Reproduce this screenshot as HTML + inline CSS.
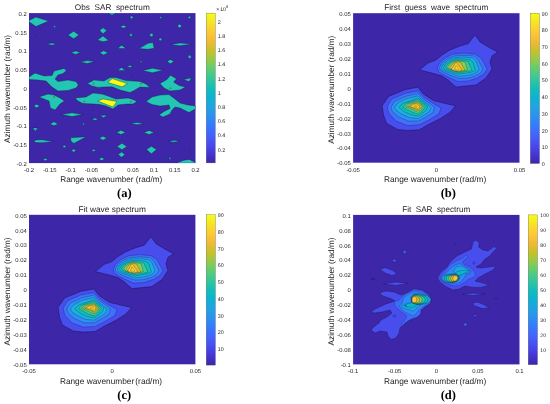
<!DOCTYPE html>
<html lang="en"><head><meta charset="utf-8"><title>SAR spectra figure</title>
<style>html,body{margin:0;padding:0;background:#fff}svg{display:block}text{text-rendering:geometricPrecision}</style></head><body>
<svg width="550" height="404" viewBox="0 0 550 404">
<rect width="550" height="404" fill="#ffffff"/>
<rect x="29.0" y="13.1" width="166.5" height="150.0" fill="#3e26a8"/>
<text x="112.25" y="10.10" font-size="8.2" text-anchor="middle" font-family="'Liberation Sans', Arial, sans-serif" fill="#262626" xml:space="preserve" textLength="75.0" lengthAdjust="spacingAndGlyphs">Obs  SAR  spectrum</text>
<text x="29.00" y="172.10" font-size="5.9" text-anchor="middle" font-family="'Liberation Sans', Arial, sans-serif" fill="#262626" xml:space="preserve">-0.2</text>
<text x="49.81" y="172.10" font-size="5.9" text-anchor="middle" font-family="'Liberation Sans', Arial, sans-serif" fill="#262626" xml:space="preserve">-0.15</text>
<text x="70.62" y="172.10" font-size="5.9" text-anchor="middle" font-family="'Liberation Sans', Arial, sans-serif" fill="#262626" xml:space="preserve">-0.1</text>
<text x="91.44" y="172.10" font-size="5.9" text-anchor="middle" font-family="'Liberation Sans', Arial, sans-serif" fill="#262626" xml:space="preserve">-0.05</text>
<text x="112.25" y="172.10" font-size="5.9" text-anchor="middle" font-family="'Liberation Sans', Arial, sans-serif" fill="#262626" xml:space="preserve">0</text>
<text x="133.06" y="172.10" font-size="5.9" text-anchor="middle" font-family="'Liberation Sans', Arial, sans-serif" fill="#262626" xml:space="preserve">0.05</text>
<text x="153.88" y="172.10" font-size="5.9" text-anchor="middle" font-family="'Liberation Sans', Arial, sans-serif" fill="#262626" xml:space="preserve">0.1</text>
<text x="174.69" y="172.10" font-size="5.9" text-anchor="middle" font-family="'Liberation Sans', Arial, sans-serif" fill="#262626" xml:space="preserve">0.15</text>
<text x="195.50" y="172.10" font-size="5.9" text-anchor="middle" font-family="'Liberation Sans', Arial, sans-serif" fill="#262626" xml:space="preserve">0.2</text>
<text x="26.70" y="15.80" font-size="5.9" text-anchor="end" font-family="'Liberation Sans', Arial, sans-serif" fill="#262626" xml:space="preserve">0.2</text>
<text x="26.70" y="34.55" font-size="5.9" text-anchor="end" font-family="'Liberation Sans', Arial, sans-serif" fill="#262626" xml:space="preserve">0.15</text>
<text x="26.70" y="53.30" font-size="5.9" text-anchor="end" font-family="'Liberation Sans', Arial, sans-serif" fill="#262626" xml:space="preserve">0.1</text>
<text x="26.70" y="72.05" font-size="5.9" text-anchor="end" font-family="'Liberation Sans', Arial, sans-serif" fill="#262626" xml:space="preserve">0.05</text>
<text x="26.70" y="90.80" font-size="5.9" text-anchor="end" font-family="'Liberation Sans', Arial, sans-serif" fill="#262626" xml:space="preserve">0</text>
<text x="26.70" y="109.55" font-size="5.9" text-anchor="end" font-family="'Liberation Sans', Arial, sans-serif" fill="#262626" xml:space="preserve">-0.05</text>
<text x="26.70" y="128.30" font-size="5.9" text-anchor="end" font-family="'Liberation Sans', Arial, sans-serif" fill="#262626" xml:space="preserve">-0.1</text>
<text x="26.70" y="147.05" font-size="5.9" text-anchor="end" font-family="'Liberation Sans', Arial, sans-serif" fill="#262626" xml:space="preserve">-0.15</text>
<text x="26.70" y="165.80" font-size="5.9" text-anchor="end" font-family="'Liberation Sans', Arial, sans-serif" fill="#262626" xml:space="preserve">-0.2</text>
<text x="111.25" y="182.10" font-size="8.2" text-anchor="middle" font-family="'Liberation Sans', Arial, sans-serif" fill="#262626" xml:space="preserve" textLength="102.0" lengthAdjust="spacingAndGlyphs">Range wavenumber (rad/m)</text>
<text x="9.90" y="88.90" font-size="8.2" text-anchor="middle" font-family="'Liberation Sans', Arial, sans-serif" fill="#262626" xml:space="preserve" transform="rotate(-90 9.90 88.90)" textLength="108.0" lengthAdjust="spacingAndGlyphs">Azimuth wavenumber (rad/m)</text>
<g clip-path="url(#clipA)">
<defs><clipPath id="clipA"><rect x="29.0" y="13.1" width="166.5" height="150.0"/></clipPath></defs>
<polygon points="28.0,21.0 35.9,17.1 48.6,21.0 35.9,26.6" fill="#22c6b2" stroke="#15153a" stroke-width="0.35" stroke-linejoin="round"/>
<polygon points="68.0,35.0 73.6,31.2 79.0,35.0 73.6,38.8" fill="#22c6b2" stroke="#15153a" stroke-width="0.35" stroke-linejoin="round"/>
<polygon points="46.4,44.0 52.0,42.9 56.5,44.0 52.0,45.3" fill="#22c6b2" stroke="#15153a" stroke-width="0.35" stroke-linejoin="round"/>
<polygon points="99.6,30.6 103.0,27.7 106.8,30.6 103.0,33.7" fill="#22c6b2" stroke="#15153a" stroke-width="0.35" stroke-linejoin="round"/>
<polygon points="97.4,40.0 103.0,36.0 108.6,40.5 103.0,41.8" fill="#22c6b2" stroke="#15153a" stroke-width="0.35" stroke-linejoin="round"/>
<polygon points="71.1,52.6 75.6,51.0 80.5,52.6 75.6,54.4" fill="#22c6b2" stroke="#15153a" stroke-width="0.35" stroke-linejoin="round"/>
<polygon points="99.6,52.8 103.6,50.8 108.1,52.8 103.6,55.0" fill="#22c6b2" stroke="#15153a" stroke-width="0.35" stroke-linejoin="round"/>
<polygon points="79.8,62.0 87.4,60.6 94.8,61.6 87.4,63.5" fill="#22c6b2" stroke="#15153a" stroke-width="0.35" stroke-linejoin="round"/>
<polygon points="107.5,12.9 112.0,15.2 116.5,12.9" fill="#22c6b2" stroke="#15153a" stroke-width="0.35" stroke-linejoin="round"/>
<polygon points="120.0,26.4 123.6,25.3 126.7,26.4 123.6,28.2" fill="#22c6b2" stroke="#15153a" stroke-width="0.35" stroke-linejoin="round"/>
<polygon points="128.8,35.0 131.0,33.9 133.2,35.0 131.0,36.1" fill="#22c6b2" stroke="#15153a" stroke-width="0.35" stroke-linejoin="round"/>
<polygon points="117.6,48.5 121.6,45.2 126.1,48.5" fill="#22c6b2" stroke="#15153a" stroke-width="0.35" stroke-linejoin="round"/>
<polygon points="117.6,70.5 121.4,67.4 125.4,70.5" fill="#22c6b2" stroke="#15153a" stroke-width="0.35" stroke-linejoin="round"/>
<polygon points="126.7,66.4 130.0,65.3 132.7,66.4 130.0,67.5" fill="#22c6b2" stroke="#15153a" stroke-width="0.35" stroke-linejoin="round"/>
<polygon points="29.0,77.0 35.0,73.0 44.0,76.0 52.0,75.6 54.0,71.0 64.0,68.4 66.4,70.4 63.0,73.6 58.0,75.0 55.0,79.0 58.0,81.6 68.0,80.0 76.0,81.6 78.4,85.0 76.0,88.0 68.0,90.4 58.0,91.0 52.0,87.0 46.0,81.0 38.0,80.0 29.0,79.5" fill="#22c6b2" stroke="#15153a" stroke-width="0.35" stroke-linejoin="round"/>
<polygon points="39.0,97.0 48.0,94.0 54.0,95.0 60.0,98.0 64.4,101.0 60.0,104.0 55.0,110.0 50.4,108.0 49.0,101.0 44.0,99.0" fill="#22c6b2" stroke="#15153a" stroke-width="0.35" stroke-linejoin="round"/>
<polygon points="33.7,106.0 36.4,104.2 40.0,106.0 36.4,107.8" fill="#22c6b2" stroke="#15153a" stroke-width="0.35" stroke-linejoin="round"/>
<polygon points="87.4,83.6 94.0,80.0 104.0,81.0 110.0,77.6 116.0,77.4 126.0,80.6 140.0,81.4 146.0,84.0 150.0,87.6 140.0,87.0 135.0,90.0 130.0,92.6 120.0,90.0 112.0,86.8 104.0,87.0 98.0,87.4 92.0,86.0" fill="#22c6b2" stroke="#15153a" stroke-width="0.35" stroke-linejoin="round"/>
<polygon points="75.0,98.0 86.0,97.0 93.0,93.0 102.0,94.0 108.0,96.0 116.0,99.0 128.0,98.0 133.0,99.4 137.0,101.6 133.0,104.0 126.0,104.0 118.0,105.0 113.0,109.0 106.0,106.0 100.0,104.6 94.0,104.0 83.0,103.6 78.0,101.0" fill="#22c6b2" stroke="#15153a" stroke-width="0.35" stroke-linejoin="round"/>
<polygon points="61.2,114.6 72.0,112.8 82.8,114.6 72.0,116.6" fill="#22c6b2" stroke="#15153a" stroke-width="0.35" stroke-linejoin="round"/>
<polygon points="100.0,115.3 107.4,115.3 103.6,117.8" fill="#22c6b2" stroke="#15153a" stroke-width="0.35" stroke-linejoin="round"/>
<polygon points="91.6,119.2 95.0,117.9 98.4,119.2 95.0,120.3" fill="#22c6b2" stroke="#15153a" stroke-width="0.35" stroke-linejoin="round"/>
<polygon points="50.0,124.0 54.0,121.8 58.0,124.0 54.0,125.8" fill="#22c6b2" stroke="#15153a" stroke-width="0.35" stroke-linejoin="round"/>
<polygon points="32.7,127.9 37.9,127.9 35.4,131.2" fill="#22c6b2" stroke="#15153a" stroke-width="0.35" stroke-linejoin="round"/>
<polygon points="116.5,132.4 121.0,130.2 125.5,132.4 121.0,134.6" fill="#22c6b2" stroke="#15153a" stroke-width="0.35" stroke-linejoin="round"/>
<polygon points="33.6,141.2 36.0,139.9 42.0,139.8 53.5,141.4 42.0,142.7 36.0,142.5" fill="#22c6b2" stroke="#15153a" stroke-width="0.35" stroke-linejoin="round"/>
<polygon points="70.5,137.8 86.2,136.7 73.8,143.4 71.1,141.2" fill="#22c6b2" stroke="#15153a" stroke-width="0.35" stroke-linejoin="round"/>
<polygon points="99.2,138.0 103.0,136.2 106.8,138.0 103.0,140.2" fill="#22c6b2" stroke="#15153a" stroke-width="0.35" stroke-linejoin="round"/>
<polygon points="116.9,146.4 122.0,143.3 126.9,146.4 122.0,149.8" fill="#22c6b2" stroke="#15153a" stroke-width="0.35" stroke-linejoin="round"/>
<polygon points="118.0,154.6 121.6,152.1 125.0,154.6 121.6,157.3" fill="#22c6b2" stroke="#15153a" stroke-width="0.35" stroke-linejoin="round"/>
<polygon points="62.2,146.4 64.4,145.3 66.6,146.4 64.4,147.7" fill="#22c6b2" stroke="#15153a" stroke-width="0.35" stroke-linejoin="round"/>
<polygon points="71.3,150.4 73.6,149.0 76.3,150.4 73.6,152.0" fill="#22c6b2" stroke="#15153a" stroke-width="0.35" stroke-linejoin="round"/>
<polygon points="91.3,150.4 93.6,149.3 96.3,150.4 93.6,151.5" fill="#22c6b2" stroke="#15153a" stroke-width="0.35" stroke-linejoin="round"/>
<polygon points="42.7,159.4 45.4,158.3 47.9,159.4 45.4,160.7" fill="#22c6b2" stroke="#15153a" stroke-width="0.35" stroke-linejoin="round"/>
<polygon points="98.7,159.0 101.6,157.4 104.7,159.0 101.6,160.6" fill="#22c6b2" stroke="#15153a" stroke-width="0.35" stroke-linejoin="round"/>
<polygon points="139.0,48.6 148.0,43.3 152.9,42.6 154.2,48.2 148.0,49.3" fill="#22c6b2" stroke="#15153a" stroke-width="0.35" stroke-linejoin="round"/>
<polygon points="170.5,44.4 179.9,42.9 192.2,44.0 179.9,45.8" fill="#22c6b2" stroke="#15153a" stroke-width="0.35" stroke-linejoin="round"/>
<polygon points="187.8,57.0 189.6,54.8 191.6,57.0 189.6,58.8" fill="#22c6b2" stroke="#15153a" stroke-width="0.35" stroke-linejoin="round"/>
<polygon points="167.0,61.6 170.4,59.4 174.0,61.6 170.4,63.8" fill="#22c6b2" stroke="#15153a" stroke-width="0.35" stroke-linejoin="round"/>
<polygon points="142.5,70.4 152.4,68.2 163.1,70.2 152.4,72.8" fill="#22c6b2" stroke="#15153a" stroke-width="0.35" stroke-linejoin="round"/>
<polygon points="183.5,79.6 191.4,77.8 189.1,81.7" fill="#22c6b2" stroke="#15153a" stroke-width="0.35" stroke-linejoin="round"/>
<polygon points="160.0,83.4 167.0,79.4 170.4,75.2 176.5,78.8 173.6,82.0 179.0,85.5 185.6,87.0 180.0,90.0 170.0,91.0 164.0,88.0" fill="#22c6b2" stroke="#15153a" stroke-width="0.35" stroke-linejoin="round"/>
<polygon points="146.0,101.4 152.0,97.0 160.0,95.0 169.0,94.6 175.0,99.0 180.0,103.0 188.0,105.0 196.0,106.0 196.0,108.6 189.0,112.6 180.0,108.0 175.0,107.0 172.0,110.0 170.0,114.0 163.0,117.0 159.0,115.0 164.0,111.4 170.0,108.6 169.0,105.0 160.0,106.0 152.0,104.6" fill="#22c6b2" stroke="#15153a" stroke-width="0.35" stroke-linejoin="round"/>
<polygon points="130.3,123.6 137.0,122.5 144.4,123.4 137.0,124.7" fill="#22c6b2" stroke="#15153a" stroke-width="0.35" stroke-linejoin="round"/>
<polygon points="143.8,132.4 149.0,130.4 154.2,132.4 149.0,134.6" fill="#22c6b2" stroke="#15153a" stroke-width="0.35" stroke-linejoin="round"/>
<polygon points="168.4,141.2 175.1,140.3 179.6,141.4 172.9,142.3" fill="#22c6b2" stroke="#15153a" stroke-width="0.35" stroke-linejoin="round"/>
<polygon points="146.5,149.6 151.4,146.2 156.5,149.6 151.4,153.8" fill="#22c6b2" stroke="#15153a" stroke-width="0.35" stroke-linejoin="round"/>
<polygon points="175.9,163.2 183.7,160.3 189.3,159.4 197.1,163.2" fill="#22c6b2" stroke="#15153a" stroke-width="0.35" stroke-linejoin="round"/>
<circle cx="54.6" cy="26.4" r="1.0" fill="#22c6b2" stroke="#15153a" stroke-width="0.35"/>
<circle cx="131.6" cy="17.4" r="1.4" fill="#22c6b2" stroke="#15153a" stroke-width="0.35"/>
<circle cx="160.6" cy="17.4" r="1.0" fill="#22c6b2" stroke="#15153a" stroke-width="0.35"/>
<circle cx="189.4" cy="17.4" r="1.2" fill="#22c6b2" stroke="#15153a" stroke-width="0.35"/>
<circle cx="179.6" cy="26.0" r="1.8" fill="#22c6b2" stroke="#15153a" stroke-width="0.35"/>
<circle cx="131.0" cy="35.0" r="1.4" fill="#22c6b2" stroke="#15153a" stroke-width="0.35"/>
<circle cx="151.4" cy="35.0" r="1.8" fill="#22c6b2" stroke="#15153a" stroke-width="0.35"/>
<circle cx="160.4" cy="39.4" r="1.4" fill="#22c6b2" stroke="#15153a" stroke-width="0.35"/>
<circle cx="141.0" cy="61.6" r="0.9" fill="#22c6b2" stroke="#15153a" stroke-width="0.35"/>
<circle cx="83.6" cy="124.0" r="0.9" fill="#22c6b2" stroke="#15153a" stroke-width="0.35"/>
<circle cx="170.0" cy="158.6" r="1.0" fill="#22c6b2" stroke="#15153a" stroke-width="0.35"/>
<circle cx="36.0" cy="35.0" r="0.5" fill="#1c1c50" stroke="none" stroke-width="0"/>
<circle cx="131.6" cy="75.0" r="0.5" fill="#1c1c50" stroke="none" stroke-width="0"/>
<circle cx="93.0" cy="110.4" r="0.5" fill="#1c1c50" stroke="none" stroke-width="0"/>
<circle cx="189.4" cy="150.0" r="0.5" fill="#1c1c50" stroke="none" stroke-width="0"/>
<polygon points="108.0,82.6 112.2,78.6 127.4,83.6 122.0,86.8" fill="#f9fb15" stroke="#15153a" stroke-width="0.35" stroke-linejoin="round"/>
<polygon points="97.6,101.0 103.0,99.0 117.0,101.4 113.0,107.0" fill="#f9fb15" stroke="#15153a" stroke-width="0.35" stroke-linejoin="round"/>
<circle cx="93.6" cy="83.6" r="0.7" fill="#c9c420" stroke="#15153a" stroke-width="0.3"/>
<circle cx="141.0" cy="83.6" r="0.7" fill="#c9c420" stroke="#15153a" stroke-width="0.3"/>
<circle cx="170.4" cy="88.4" r="0.7" fill="#c9c420" stroke="#15153a" stroke-width="0.3"/>
<circle cx="84.4" cy="101.6" r="0.7" fill="#c9c420" stroke="#15153a" stroke-width="0.3"/>
<circle cx="131.0" cy="101.6" r="0.7" fill="#c9c420" stroke="#15153a" stroke-width="0.3"/>
<circle cx="54.0" cy="97.0" r="0.7" fill="#c9c420" stroke="#15153a" stroke-width="0.3"/>
</g>
<defs><linearGradient id="cbA" x1="0" y1="0" x2="0" y2="1"><stop offset="0.0000" stop-color="#f9fb15"/><stop offset="0.0625" stop-color="#f5e327"/><stop offset="0.1250" stop-color="#feca33"/><stop offset="0.1875" stop-color="#f1ba37"/><stop offset="0.2500" stop-color="#c8c129"/><stop offset="0.3125" stop-color="#94ca4a"/><stop offset="0.3750" stop-color="#5ccc76"/><stop offset="0.4375" stop-color="#34c79c"/><stop offset="0.5000" stop-color="#12beb9"/><stop offset="0.5625" stop-color="#0cb3d3"/><stop offset="0.6250" stop-color="#21a3e3"/><stop offset="0.6875" stop-color="#2c90f0"/><stop offset="0.7500" stop-color="#347afd"/><stop offset="0.8125" stop-color="#4562fc"/><stop offset="0.8750" stop-color="#484cef"/><stop offset="0.9375" stop-color="#4536d5"/><stop offset="1.0000" stop-color="#3e26a8"/></linearGradient></defs>
<rect x="206.2" y="13.1" width="9.1" height="149.8" fill="url(#cbA)" stroke="#4a4a4a" stroke-width="0.3"/>
<text x="217.70" y="23.75" font-size="5.4" text-anchor="start" font-family="'Liberation Sans', Arial, sans-serif" fill="#262626" xml:space="preserve">2</text>
<text x="217.70" y="37.95" font-size="5.4" text-anchor="start" font-family="'Liberation Sans', Arial, sans-serif" fill="#262626" xml:space="preserve">1.8</text>
<text x="217.70" y="52.15" font-size="5.4" text-anchor="start" font-family="'Liberation Sans', Arial, sans-serif" fill="#262626" xml:space="preserve">1.6</text>
<text x="217.70" y="66.35" font-size="5.4" text-anchor="start" font-family="'Liberation Sans', Arial, sans-serif" fill="#262626" xml:space="preserve">1.4</text>
<text x="217.70" y="80.55" font-size="5.4" text-anchor="start" font-family="'Liberation Sans', Arial, sans-serif" fill="#262626" xml:space="preserve">1.2</text>
<text x="217.70" y="94.75" font-size="5.4" text-anchor="start" font-family="'Liberation Sans', Arial, sans-serif" fill="#262626" xml:space="preserve">1</text>
<text x="217.70" y="108.95" font-size="5.4" text-anchor="start" font-family="'Liberation Sans', Arial, sans-serif" fill="#262626" xml:space="preserve">0.8</text>
<text x="217.70" y="123.15" font-size="5.4" text-anchor="start" font-family="'Liberation Sans', Arial, sans-serif" fill="#262626" xml:space="preserve">0.6</text>
<text x="217.70" y="137.35" font-size="5.4" text-anchor="start" font-family="'Liberation Sans', Arial, sans-serif" fill="#262626" xml:space="preserve">0.4</text>
<text x="217.70" y="151.55" font-size="5.4" text-anchor="start" font-family="'Liberation Sans', Arial, sans-serif" fill="#262626" xml:space="preserve">0.2</text>
<text x="216.2" y="10.6" font-size="5.2" font-family="'Liberation Sans', Arial, sans-serif" fill="#262626">×<tspan dx="0.9">10</tspan><tspan dy="-2.4" font-size="4">8</tspan></text>
<text x="124.40" y="196.60" font-size="12.5" text-anchor="middle" font-family="'Liberation Serif', 'Times New Roman', serif" fill="#000" xml:space="preserve" font-weight="bold">(a)</text>
<rect x="353.1" y="13.2" width="166.4" height="149.5" fill="#3e26a8"/>
<text x="436.30" y="10.20" font-size="8.2" text-anchor="middle" font-family="'Liberation Sans', Arial, sans-serif" fill="#262626" xml:space="preserve" textLength="104.0" lengthAdjust="spacingAndGlyphs">First  guess  wave  spectrum</text>
<text x="353.10" y="171.70" font-size="5.9" text-anchor="middle" font-family="'Liberation Sans', Arial, sans-serif" fill="#262626" xml:space="preserve">-0.05</text>
<text x="436.30" y="171.70" font-size="5.9" text-anchor="middle" font-family="'Liberation Sans', Arial, sans-serif" fill="#262626" xml:space="preserve">0</text>
<text x="519.50" y="171.70" font-size="5.9" text-anchor="middle" font-family="'Liberation Sans', Arial, sans-serif" fill="#262626" xml:space="preserve">0.05</text>
<text x="350.80" y="15.90" font-size="5.9" text-anchor="end" font-family="'Liberation Sans', Arial, sans-serif" fill="#262626" xml:space="preserve">0.05</text>
<text x="350.80" y="30.85" font-size="5.9" text-anchor="end" font-family="'Liberation Sans', Arial, sans-serif" fill="#262626" xml:space="preserve">0.04</text>
<text x="350.80" y="45.80" font-size="5.9" text-anchor="end" font-family="'Liberation Sans', Arial, sans-serif" fill="#262626" xml:space="preserve">0.03</text>
<text x="350.80" y="60.75" font-size="5.9" text-anchor="end" font-family="'Liberation Sans', Arial, sans-serif" fill="#262626" xml:space="preserve">0.02</text>
<text x="350.80" y="75.70" font-size="5.9" text-anchor="end" font-family="'Liberation Sans', Arial, sans-serif" fill="#262626" xml:space="preserve">0.01</text>
<text x="350.80" y="90.65" font-size="5.9" text-anchor="end" font-family="'Liberation Sans', Arial, sans-serif" fill="#262626" xml:space="preserve">0</text>
<text x="350.80" y="105.60" font-size="5.9" text-anchor="end" font-family="'Liberation Sans', Arial, sans-serif" fill="#262626" xml:space="preserve">-0.01</text>
<text x="350.80" y="120.55" font-size="5.9" text-anchor="end" font-family="'Liberation Sans', Arial, sans-serif" fill="#262626" xml:space="preserve">-0.02</text>
<text x="350.80" y="135.50" font-size="5.9" text-anchor="end" font-family="'Liberation Sans', Arial, sans-serif" fill="#262626" xml:space="preserve">-0.03</text>
<text x="350.80" y="150.45" font-size="5.9" text-anchor="end" font-family="'Liberation Sans', Arial, sans-serif" fill="#262626" xml:space="preserve">-0.04</text>
<text x="350.80" y="165.40" font-size="5.9" text-anchor="end" font-family="'Liberation Sans', Arial, sans-serif" fill="#262626" xml:space="preserve">-0.05</text>
<text x="435.10" y="182.20" font-size="8.299999999999999" text-anchor="middle" font-family="'Liberation Sans', Arial, sans-serif" fill="#262626" xml:space="preserve">Range wavenumber<tspan dx="-1.1"> (rad/m)</tspan></text>
<text x="333.90" y="89.75" font-size="8.2" text-anchor="middle" font-family="'Liberation Sans', Arial, sans-serif" fill="#262626" xml:space="preserve" transform="rotate(-90 333.90 89.75)" textLength="108.0" lengthAdjust="spacingAndGlyphs">Azimuth wavenumber (rad/m)</text>
<polygon points="419.6,70.0 428.0,63.0 436.0,60.0 442.0,55.0 450.0,50.0 460.0,46.0 468.4,43.6 475.0,35.0 480.0,42.0 490.0,48.0 497.6,52.0 492.0,56.0 490.0,62.0 492.0,69.0 486.0,78.0 476.0,85.0 466.0,86.0 456.0,87.0 448.0,80.0 442.0,76.0 434.0,73.6 426.0,71.6" fill="#484dee" stroke="#0a0a30" stroke-width="0.4" stroke-linejoin="round"/>
<polygon points="437.5,67.5 439.5,63.0 445.0,58.0 453.0,54.0 464.0,53.0 475.0,54.0 481.0,58.0 487.0,69.0 484.0,74.0 477.0,78.0 468.0,81.0 458.0,81.5 450.0,78.0 442.0,74.0 438.0,71.0" fill="#3e72f9" stroke="#0a0a30" stroke-width="0.25" stroke-linejoin="round"/>
<polygon points="439.5,67.5 441.5,63.5 447.0,59.0 454.0,56.0 464.0,55.2 474.0,56.0 478.0,59.5 483.0,69.0 480.5,73.0 475.0,76.0 468.0,78.0 459.0,78.5 451.0,75.5 444.0,72.5 440.0,70.0" fill="#2e90f5" stroke="#0a0a30" stroke-width="0.25" stroke-linejoin="round"/>
<polygon points="441.5,67.5 443.5,64.0 448.5,60.0 455.0,57.5 464.0,57.0 472.5,58.0 476.0,61.0 479.0,69.0 477.0,72.0 473.0,74.0 467.0,75.5 459.0,76.2 452.0,73.5 446.0,71.5 442.0,69.5" fill="#1eaee0" stroke="#0a0a30" stroke-width="0.25" stroke-linejoin="round"/>
<polygon points="443.5,67.5 445.5,64.0 450.0,61.0 455.5,58.8 464.0,58.8 470.0,59.8 473.0,62.0 475.5,70.5 472.0,72.0 467.0,73.0 459.0,74.2 453.5,72.5 447.5,70.5 444.5,69.2" fill="#0ebfbc" stroke="#0a0a30" stroke-width="0.25" stroke-linejoin="round"/>
<polygon points="445.5,67.5 447.5,64.5 451.5,61.5 456.0,60.0 464.0,60.5 468.0,61.5 472.0,70.5 468.0,71.2 459.0,72.8 454.5,71.5 449.0,69.5" fill="#3dcb92" stroke="#0a0a30" stroke-width="0.25" stroke-linejoin="round"/>
<polygon points="447.5,67.5 450.0,64.0 453.5,62.0 456.2,60.8 461.5,61.5 465.0,62.0 467.5,70.0 464.0,70.8 459.0,71.8 455.0,70.8 450.0,69.2" fill="#8bcf54" stroke="#0a0a30" stroke-width="0.25" stroke-linejoin="round"/>
<polygon points="450.0,67.5 452.5,64.0 456.2,61.5 459.0,62.0 461.2,63.0 465.0,70.2 459.0,71.2 455.0,70.5 451.5,69.0" fill="#d5c328" stroke="#0a0a30" stroke-width="0.25" stroke-linejoin="round"/>
<polygon points="451.5,69.5 456.0,62.0 462.0,69.5 459.0,71.2 454.5,70.8" fill="#fec338" stroke="#0a0a30" stroke-width="0.25" stroke-linejoin="round"/>
<polygon points="454.5,69.5 456.2,65.5 459.0,69.5 456.5,70.5" fill="#f5e924" stroke="#0a0a30" stroke-width="0.25" stroke-linejoin="round"/>
<circle cx="456.0" cy="69.3" r="0.6" fill="#f9fb15" stroke="#15153a" stroke-width="0.2"/>
<polygon points="382.2,105.8 388.7,96.4 404.7,89.8 417.8,87.2 423.6,94.2 433.8,100.7 445.5,103.6 455.6,105.8 449.8,112.4 439.6,118.9 429.5,124.0 419.3,129.8 407.6,130.5 397.5,129.4 386.5,123.3 383.6,115.3" fill="#484dee" stroke="#0a0a30" stroke-width="0.4" stroke-linejoin="round"/>
<polygon points="387.3,106.5 391.6,99.3 404.7,93.5 417.8,91.0 423.6,97.1 432.4,102.9 441.1,108.0 438.9,113.8 429.5,119.6 419.3,124.7 407.6,125.5 396.0,121.1 388.7,113.1" fill="#3e72f9" stroke="#0a0a30" stroke-width="0.25" stroke-linejoin="round"/>
<polygon points="390.9,107.3 394.5,101.5 405.5,96.4 417.8,93.5 423.6,99.3 430.2,103.6 434.5,107.3 433.1,112.4 426.5,116.7 418.5,121.1 408.4,121.1 398.2,116.7 392.4,111.6" fill="#2e90f5" stroke="#0a0a30" stroke-width="0.25" stroke-linejoin="round"/>
<polygon points="394.5,107.3 398.2,102.9 406.2,98.8 417.8,95.9 423.3,101.2 428.7,105.1 430.9,107.6 429.5,111.3 425.1,114.5 418.5,118.6 409.8,117.7 401.1,113.8 396.7,110.9" fill="#1eaee0" stroke="#0a0a30" stroke-width="0.25" stroke-linejoin="round"/>
<polygon points="398.9,107.3 402.5,103.6 417.8,98.1 422.9,102.6 428.0,106.5 426.3,110.2 418.5,116.3 411.3,114.8 404.0,111.6" fill="#0ebfbc" stroke="#0a0a30" stroke-width="0.25" stroke-linejoin="round"/>
<polygon points="402.5,107.0 406.2,103.6 417.8,99.7 422.2,103.6 425.4,106.5 423.3,109.9 418.5,114.3 412.7,112.4 406.9,109.5" fill="#3dcb92" stroke="#0a0a30" stroke-width="0.25" stroke-linejoin="round"/>
<polygon points="405.5,106.7 409.1,103.6 417.8,101.2 421.5,104.4 423.3,106.5 421.5,109.5 418.5,112.4 414.2,110.5 409.8,108.4" fill="#8bcf54" stroke="#0a0a30" stroke-width="0.25" stroke-linejoin="round"/>
<polygon points="407.6,106.5 411.3,104.1 417.8,102.2 420.7,104.8 422.2,106.5 418.5,110.9 414.9,109.0 411.3,107.6" fill="#d5c328" stroke="#0a0a30" stroke-width="0.25" stroke-linejoin="round"/>
<polygon points="409.8,106.5 413.2,104.4 417.8,103.2 420.7,106.5 418.1,109.9 414.9,108.0" fill="#fec338" stroke="#0a0a30" stroke-width="0.25" stroke-linejoin="round"/>
<polygon points="414.2,106.3 417.5,104.7 420.0,106.5 417.8,108.4" fill="#f5e924" stroke="#0a0a30" stroke-width="0.25" stroke-linejoin="round"/>
<circle cx="417.1" cy="106.4" r="0.6" fill="#f9fb15" stroke="#15153a" stroke-width="0.2"/>
<defs><linearGradient id="cbB" x1="0" y1="0" x2="0" y2="1"><stop offset="0.0000" stop-color="#f9fb15"/><stop offset="0.0625" stop-color="#f5e327"/><stop offset="0.1250" stop-color="#feca33"/><stop offset="0.1875" stop-color="#f1ba37"/><stop offset="0.2500" stop-color="#c8c129"/><stop offset="0.3125" stop-color="#94ca4a"/><stop offset="0.3750" stop-color="#5ccc76"/><stop offset="0.4375" stop-color="#34c79c"/><stop offset="0.5000" stop-color="#12beb9"/><stop offset="0.5625" stop-color="#0cb3d3"/><stop offset="0.6250" stop-color="#21a3e3"/><stop offset="0.6875" stop-color="#2c90f0"/><stop offset="0.7500" stop-color="#347afd"/><stop offset="0.8125" stop-color="#4562fc"/><stop offset="0.8750" stop-color="#484cef"/><stop offset="0.9375" stop-color="#4536d5"/><stop offset="1.0000" stop-color="#3e26a8"/></linearGradient></defs>
<rect x="530.3" y="13.2" width="9.2" height="150.3" fill="url(#cbB)" stroke="#4a4a4a" stroke-width="0.3"/>
<text x="541.80" y="15.60" font-size="5.3" text-anchor="start" font-family="'Liberation Sans', Arial, sans-serif" fill="#262626" xml:space="preserve">90</text>
<text x="541.80" y="32.31" font-size="5.3" text-anchor="start" font-family="'Liberation Sans', Arial, sans-serif" fill="#262626" xml:space="preserve">80</text>
<text x="541.80" y="49.02" font-size="5.3" text-anchor="start" font-family="'Liberation Sans', Arial, sans-serif" fill="#262626" xml:space="preserve">70</text>
<text x="541.80" y="65.73" font-size="5.3" text-anchor="start" font-family="'Liberation Sans', Arial, sans-serif" fill="#262626" xml:space="preserve">60</text>
<text x="541.80" y="82.44" font-size="5.3" text-anchor="start" font-family="'Liberation Sans', Arial, sans-serif" fill="#262626" xml:space="preserve">50</text>
<text x="541.80" y="99.15" font-size="5.3" text-anchor="start" font-family="'Liberation Sans', Arial, sans-serif" fill="#262626" xml:space="preserve">40</text>
<text x="541.80" y="115.86" font-size="5.3" text-anchor="start" font-family="'Liberation Sans', Arial, sans-serif" fill="#262626" xml:space="preserve">30</text>
<text x="541.80" y="132.57" font-size="5.3" text-anchor="start" font-family="'Liberation Sans', Arial, sans-serif" fill="#262626" xml:space="preserve">20</text>
<text x="541.80" y="149.28" font-size="5.3" text-anchor="start" font-family="'Liberation Sans', Arial, sans-serif" fill="#262626" xml:space="preserve">10</text>
<text x="541.80" y="165.99" font-size="5.3" text-anchor="start" font-family="'Liberation Sans', Arial, sans-serif" fill="#262626" xml:space="preserve">0</text>
<text x="448.30" y="196.80" font-size="12.5" text-anchor="middle" font-family="'Liberation Serif', 'Times New Roman', serif" fill="#000" xml:space="preserve" font-weight="bold">(b)</text>
<rect x="29.0" y="214.8" width="166.4" height="149.5" fill="#3e26a8"/>
<text x="112.20" y="211.85" font-size="8.2" text-anchor="middle" font-family="'Liberation Sans', Arial, sans-serif" fill="#262626" xml:space="preserve" textLength="67.5" lengthAdjust="spacingAndGlyphs">Fit wave spectrum</text>
<text x="29.00" y="373.35" font-size="5.9" text-anchor="middle" font-family="'Liberation Sans', Arial, sans-serif" fill="#262626" xml:space="preserve">-0.05</text>
<text x="112.20" y="373.35" font-size="5.9" text-anchor="middle" font-family="'Liberation Sans', Arial, sans-serif" fill="#262626" xml:space="preserve">0</text>
<text x="195.40" y="373.35" font-size="5.9" text-anchor="middle" font-family="'Liberation Sans', Arial, sans-serif" fill="#262626" xml:space="preserve">0.05</text>
<text x="26.70" y="217.55" font-size="5.9" text-anchor="end" font-family="'Liberation Sans', Arial, sans-serif" fill="#262626" xml:space="preserve">0.05</text>
<text x="26.70" y="232.50" font-size="5.9" text-anchor="end" font-family="'Liberation Sans', Arial, sans-serif" fill="#262626" xml:space="preserve">0.04</text>
<text x="26.70" y="247.45" font-size="5.9" text-anchor="end" font-family="'Liberation Sans', Arial, sans-serif" fill="#262626" xml:space="preserve">0.03</text>
<text x="26.70" y="262.40" font-size="5.9" text-anchor="end" font-family="'Liberation Sans', Arial, sans-serif" fill="#262626" xml:space="preserve">0.02</text>
<text x="26.70" y="277.35" font-size="5.9" text-anchor="end" font-family="'Liberation Sans', Arial, sans-serif" fill="#262626" xml:space="preserve">0.01</text>
<text x="26.70" y="292.30" font-size="5.9" text-anchor="end" font-family="'Liberation Sans', Arial, sans-serif" fill="#262626" xml:space="preserve">0</text>
<text x="26.70" y="307.25" font-size="5.9" text-anchor="end" font-family="'Liberation Sans', Arial, sans-serif" fill="#262626" xml:space="preserve">-0.01</text>
<text x="26.70" y="322.20" font-size="5.9" text-anchor="end" font-family="'Liberation Sans', Arial, sans-serif" fill="#262626" xml:space="preserve">-0.02</text>
<text x="26.70" y="337.15" font-size="5.9" text-anchor="end" font-family="'Liberation Sans', Arial, sans-serif" fill="#262626" xml:space="preserve">-0.03</text>
<text x="26.70" y="352.10" font-size="5.9" text-anchor="end" font-family="'Liberation Sans', Arial, sans-serif" fill="#262626" xml:space="preserve">-0.04</text>
<text x="26.70" y="367.05" font-size="5.9" text-anchor="end" font-family="'Liberation Sans', Arial, sans-serif" fill="#262626" xml:space="preserve">-0.05</text>
<text x="111.00" y="383.85" font-size="8.299999999999999" text-anchor="middle" font-family="'Liberation Sans', Arial, sans-serif" fill="#262626" xml:space="preserve">Range wavenumber<tspan dx="-1.1"> (rad/m)</tspan></text>
<text x="9.80" y="291.40" font-size="8.2" text-anchor="middle" font-family="'Liberation Sans', Arial, sans-serif" fill="#262626" xml:space="preserve" transform="rotate(-90 9.80 291.40)" textLength="108.0" lengthAdjust="spacingAndGlyphs">Azimuth wavenumber (rad/m)</text>
<polygon points="95.5,271.6 103.9,264.6 111.9,261.6 117.9,256.6 125.9,251.7 135.9,247.7 144.3,245.2 150.9,236.7 155.9,243.7 165.9,249.7 173.5,253.7 167.9,257.6 165.9,263.6 167.9,270.6 161.9,279.6 151.9,286.6 141.9,287.6 131.9,288.6 123.9,281.6 117.9,277.6 109.9,275.2 101.9,273.2" fill="#484dee" stroke="#0a0a30" stroke-width="0.4" stroke-linejoin="round"/>
<polygon points="113.4,269.1 115.4,264.6 120.9,259.6 128.9,255.7 139.9,254.7 150.9,255.7 156.9,259.6 162.9,270.6 159.9,275.6 152.9,279.6 143.9,282.6 133.9,283.1 125.9,279.6 117.9,275.6 113.9,272.6" fill="#3e72f9" stroke="#0a0a30" stroke-width="0.25" stroke-linejoin="round"/>
<polygon points="115.4,269.1 117.4,265.1 122.9,260.6 129.9,257.6 139.9,256.9 149.9,257.6 153.9,261.1 158.9,270.6 156.4,274.6 150.9,277.6 143.9,279.6 134.9,280.1 126.9,277.1 119.9,274.1 115.9,271.6" fill="#2e90f5" stroke="#0a0a30" stroke-width="0.25" stroke-linejoin="round"/>
<polygon points="117.4,269.1 119.4,265.6 124.4,261.6 130.9,259.1 139.9,258.6 148.4,259.6 151.9,262.6 154.9,270.6 152.9,273.6 148.9,275.6 142.9,277.1 134.9,277.9 127.9,275.1 121.9,273.1 117.9,271.1" fill="#1eaee0" stroke="#0a0a30" stroke-width="0.25" stroke-linejoin="round"/>
<polygon points="119.4,269.1 121.4,265.6 125.9,262.6 131.4,260.4 139.9,260.4 145.9,261.4 148.9,263.6 151.4,272.1 147.9,273.6 142.9,274.6 134.9,275.9 129.4,274.1 123.4,272.1 120.4,270.9" fill="#0ebfbc" stroke="#0a0a30" stroke-width="0.25" stroke-linejoin="round"/>
<polygon points="121.4,269.1 123.4,266.1 127.4,263.1 131.9,261.6 139.9,262.1 143.9,263.1 147.9,272.1 143.9,272.9 134.9,274.4 130.4,273.1 124.9,271.1" fill="#3dcb92" stroke="#0a0a30" stroke-width="0.25" stroke-linejoin="round"/>
<polygon points="123.4,269.1 125.9,265.6 129.4,263.6 132.1,262.4 137.4,263.1 140.9,263.6 143.4,271.6 139.9,272.4 134.9,273.4 130.9,272.4 125.9,270.9" fill="#8bcf54" stroke="#0a0a30" stroke-width="0.25" stroke-linejoin="round"/>
<polygon points="125.9,269.1 128.4,265.6 132.1,263.1 134.9,263.6 137.1,264.6 140.9,271.9 134.9,272.9 130.9,272.1 127.4,270.6" fill="#d5c328" stroke="#0a0a30" stroke-width="0.25" stroke-linejoin="round"/>
<polygon points="127.4,271.1 131.9,263.6 137.9,271.1 134.9,272.9 130.4,272.4" fill="#fec338" stroke="#0a0a30" stroke-width="0.25" stroke-linejoin="round"/>
<polygon points="130.4,271.1 132.1,267.1 134.9,271.1 132.4,272.1" fill="#f5e924" stroke="#0a0a30" stroke-width="0.25" stroke-linejoin="round"/>
<circle cx="131.9" cy="270.9" r="0.6" fill="#f9fb15" stroke="#15153a" stroke-width="0.2"/>
<polygon points="58.1,307.4 64.6,298.1 80.6,291.4 93.7,288.9 99.5,295.9 109.7,302.4 121.4,305.2 131.5,307.4 125.7,314.1 115.5,320.6 105.4,325.6 95.2,331.5 83.5,332.1 73.4,331.1 62.4,324.9 59.5,316.9" fill="#484dee" stroke="#0a0a30" stroke-width="0.4" stroke-linejoin="round"/>
<polygon points="63.2,308.1 67.5,300.9 80.6,295.1 93.7,292.6 99.5,298.8 108.3,304.6 117.0,309.6 114.8,315.4 105.4,321.2 95.2,326.4 83.5,327.1 71.9,322.8 64.6,314.8" fill="#3e72f9" stroke="#0a0a30" stroke-width="0.25" stroke-linejoin="round"/>
<polygon points="66.8,308.9 70.4,303.1 81.4,298.1 93.7,295.1 99.5,300.9 106.1,305.2 110.4,308.9 109.0,314.1 102.4,318.4 94.4,322.8 84.3,322.8 74.1,318.4 68.3,313.2" fill="#2e90f5" stroke="#0a0a30" stroke-width="0.25" stroke-linejoin="round"/>
<polygon points="70.4,308.9 74.1,304.6 82.1,300.4 93.7,297.6 99.2,302.9 104.6,306.8 106.8,309.2 105.4,312.9 101.0,316.1 94.4,320.2 85.7,319.4 77.0,315.4 72.6,312.6" fill="#1eaee0" stroke="#0a0a30" stroke-width="0.25" stroke-linejoin="round"/>
<polygon points="74.8,308.9 78.4,305.2 93.7,299.8 98.8,304.2 103.9,308.1 102.2,311.9 94.4,317.9 87.2,316.4 79.9,313.2" fill="#0ebfbc" stroke="#0a0a30" stroke-width="0.25" stroke-linejoin="round"/>
<polygon points="78.4,308.6 82.1,305.2 93.7,301.4 98.1,305.2 101.3,308.1 99.2,311.6 94.4,315.9 88.6,314.1 82.8,311.1" fill="#3dcb92" stroke="#0a0a30" stroke-width="0.25" stroke-linejoin="round"/>
<polygon points="81.4,308.4 85.0,305.2 93.7,302.9 97.4,306.1 99.2,308.1 97.4,311.1 94.4,314.1 90.1,312.1 85.7,310.1" fill="#8bcf54" stroke="#0a0a30" stroke-width="0.25" stroke-linejoin="round"/>
<polygon points="83.5,308.1 87.2,305.8 93.7,303.9 96.6,306.4 98.1,308.1 94.4,312.6 90.8,310.6 87.2,309.2" fill="#d5c328" stroke="#0a0a30" stroke-width="0.25" stroke-linejoin="round"/>
<polygon points="85.7,308.1 89.1,306.1 93.7,304.9 96.6,308.1 94.0,311.6 90.8,309.6" fill="#fec338" stroke="#0a0a30" stroke-width="0.25" stroke-linejoin="round"/>
<polygon points="90.1,307.9 93.4,306.4 95.9,308.1 93.7,310.1" fill="#f5e924" stroke="#0a0a30" stroke-width="0.25" stroke-linejoin="round"/>
<circle cx="93.0" cy="308.1" r="0.6" fill="#f9fb15" stroke="#15153a" stroke-width="0.2"/>
<defs><linearGradient id="cbC" x1="0" y1="0" x2="0" y2="1"><stop offset="0.0000" stop-color="#f9fb15"/><stop offset="0.0625" stop-color="#f5e327"/><stop offset="0.1250" stop-color="#feca33"/><stop offset="0.1875" stop-color="#f1ba37"/><stop offset="0.2500" stop-color="#c8c129"/><stop offset="0.3125" stop-color="#94ca4a"/><stop offset="0.3750" stop-color="#5ccc76"/><stop offset="0.4375" stop-color="#34c79c"/><stop offset="0.5000" stop-color="#12beb9"/><stop offset="0.5625" stop-color="#0cb3d3"/><stop offset="0.6250" stop-color="#21a3e3"/><stop offset="0.6875" stop-color="#2c90f0"/><stop offset="0.7500" stop-color="#347afd"/><stop offset="0.8125" stop-color="#4562fc"/><stop offset="0.8750" stop-color="#484cef"/><stop offset="0.9375" stop-color="#4536d5"/><stop offset="1.0000" stop-color="#3e26a8"/></linearGradient></defs>
<rect x="206.2" y="214.8" width="9.2" height="150.3" fill="url(#cbC)" stroke="#4a4a4a" stroke-width="0.3"/>
<text x="217.70" y="217.25" font-size="5.3" text-anchor="start" font-family="'Liberation Sans', Arial, sans-serif" fill="#262626" xml:space="preserve">90</text>
<text x="217.70" y="233.96" font-size="5.3" text-anchor="start" font-family="'Liberation Sans', Arial, sans-serif" fill="#262626" xml:space="preserve">80</text>
<text x="217.70" y="250.67" font-size="5.3" text-anchor="start" font-family="'Liberation Sans', Arial, sans-serif" fill="#262626" xml:space="preserve">70</text>
<text x="217.70" y="267.38" font-size="5.3" text-anchor="start" font-family="'Liberation Sans', Arial, sans-serif" fill="#262626" xml:space="preserve">60</text>
<text x="217.70" y="284.09" font-size="5.3" text-anchor="start" font-family="'Liberation Sans', Arial, sans-serif" fill="#262626" xml:space="preserve">50</text>
<text x="217.70" y="300.80" font-size="5.3" text-anchor="start" font-family="'Liberation Sans', Arial, sans-serif" fill="#262626" xml:space="preserve">40</text>
<text x="217.70" y="317.51" font-size="5.3" text-anchor="start" font-family="'Liberation Sans', Arial, sans-serif" fill="#262626" xml:space="preserve">30</text>
<text x="217.70" y="334.22" font-size="5.3" text-anchor="start" font-family="'Liberation Sans', Arial, sans-serif" fill="#262626" xml:space="preserve">20</text>
<text x="217.70" y="350.93" font-size="5.3" text-anchor="start" font-family="'Liberation Sans', Arial, sans-serif" fill="#262626" xml:space="preserve">10</text>
<text x="124.20" y="399.00" font-size="12.5" text-anchor="middle" font-family="'Liberation Serif', 'Times New Roman', serif" fill="#000" xml:space="preserve" font-weight="bold">(c)</text>
<rect x="353.1" y="214.9" width="166.4" height="149.5" fill="#3e26a8"/>
<text x="436.30" y="211.90" font-size="8.2" text-anchor="middle" font-family="'Liberation Sans', Arial, sans-serif" fill="#262626" xml:space="preserve" textLength="68.0" lengthAdjust="spacingAndGlyphs">Fit  SAR  spectrum</text>
<text x="353.10" y="373.40" font-size="5.9" text-anchor="middle" font-family="'Liberation Sans', Arial, sans-serif" fill="#262626" xml:space="preserve">-0.1</text>
<text x="394.70" y="373.40" font-size="5.9" text-anchor="middle" font-family="'Liberation Sans', Arial, sans-serif" fill="#262626" xml:space="preserve">-0.05</text>
<text x="436.30" y="373.40" font-size="5.9" text-anchor="middle" font-family="'Liberation Sans', Arial, sans-serif" fill="#262626" xml:space="preserve">0</text>
<text x="477.90" y="373.40" font-size="5.9" text-anchor="middle" font-family="'Liberation Sans', Arial, sans-serif" fill="#262626" xml:space="preserve">0.05</text>
<text x="519.50" y="373.40" font-size="5.9" text-anchor="middle" font-family="'Liberation Sans', Arial, sans-serif" fill="#262626" xml:space="preserve">0.1</text>
<text x="350.80" y="217.60" font-size="5.9" text-anchor="end" font-family="'Liberation Sans', Arial, sans-serif" fill="#262626" xml:space="preserve">0.1</text>
<text x="350.80" y="232.55" font-size="5.9" text-anchor="end" font-family="'Liberation Sans', Arial, sans-serif" fill="#262626" xml:space="preserve">0.08</text>
<text x="350.80" y="247.50" font-size="5.9" text-anchor="end" font-family="'Liberation Sans', Arial, sans-serif" fill="#262626" xml:space="preserve">0.06</text>
<text x="350.80" y="262.45" font-size="5.9" text-anchor="end" font-family="'Liberation Sans', Arial, sans-serif" fill="#262626" xml:space="preserve">0.04</text>
<text x="350.80" y="277.40" font-size="5.9" text-anchor="end" font-family="'Liberation Sans', Arial, sans-serif" fill="#262626" xml:space="preserve">0.02</text>
<text x="350.80" y="292.35" font-size="5.9" text-anchor="end" font-family="'Liberation Sans', Arial, sans-serif" fill="#262626" xml:space="preserve">0</text>
<text x="350.80" y="307.30" font-size="5.9" text-anchor="end" font-family="'Liberation Sans', Arial, sans-serif" fill="#262626" xml:space="preserve">-0.02</text>
<text x="350.80" y="322.25" font-size="5.9" text-anchor="end" font-family="'Liberation Sans', Arial, sans-serif" fill="#262626" xml:space="preserve">-0.04</text>
<text x="350.80" y="337.20" font-size="5.9" text-anchor="end" font-family="'Liberation Sans', Arial, sans-serif" fill="#262626" xml:space="preserve">-0.06</text>
<text x="350.80" y="352.15" font-size="5.9" text-anchor="end" font-family="'Liberation Sans', Arial, sans-serif" fill="#262626" xml:space="preserve">-0.08</text>
<text x="350.80" y="367.10" font-size="5.9" text-anchor="end" font-family="'Liberation Sans', Arial, sans-serif" fill="#262626" xml:space="preserve">-0.1</text>
<text x="435.10" y="383.90" font-size="8.299999999999999" text-anchor="middle" font-family="'Liberation Sans', Arial, sans-serif" fill="#262626" xml:space="preserve">Range wavenumber<tspan dx="-1.1"> (rad/m)</tspan></text>
<text x="333.90" y="291.45" font-size="8.2" text-anchor="middle" font-family="'Liberation Sans', Arial, sans-serif" fill="#262626" xml:space="preserve" transform="rotate(-90 333.90 291.45)" textLength="108.0" lengthAdjust="spacingAndGlyphs">Azimuth wavenumber (rad/m)</text>
<polygon points="437.4,278.0 441.0,272.0 447.0,267.0 451.0,261.0 457.0,256.0 465.0,252.0 471.4,249.0 473.0,242.0 476.0,240.0 479.4,243.0 478.6,247.0 483.0,250.0 488.0,251.0 494.0,246.6 497.0,248.0 492.0,253.0 490.0,256.0 485.0,259.0 481.0,264.0 476.0,267.0 481.0,268.0 489.0,267.0 496.0,266.0 493.0,270.0 485.0,274.0 478.0,278.0 475.0,281.0 483.0,283.0 489.0,285.0 481.0,287.4 473.0,287.4 465.0,286.0 459.0,289.0 453.0,290.0 445.0,286.0 440.0,282.0" fill="#484dee" stroke="#15153a" stroke-width="0.35" stroke-linejoin="round"/>
<circle cx="474.0" cy="263.0" r="1.2" fill="#484dee" stroke="#15153a" stroke-width="0.3"/>
<polygon points="439.5,277.5 446.0,270.0 450.0,265.0 456.0,261.0 462.0,259.0 466.0,255.0 467.5,256.5 465.0,259.5 462.0,262.0 465.0,265.0 470.0,267.0 473.0,270.0 475.0,273.0 475.5,276.0 472.0,278.0 468.0,279.5 465.0,282.0 460.0,285.0 455.0,286.0 447.0,284.0 442.0,281.0" fill="#3c6cf8" stroke="#0a0a30" stroke-width="0.2" stroke-linejoin="round"/>
<polygon points="440.5,277.5 444.0,275.5 450.0,269.0 455.0,265.0 460.0,263.5 466.0,267.0 471.0,270.5 469.5,273.5 466.0,274.5 464.0,278.0 461.0,282.0 456.0,283.8 449.0,283.0 443.0,280.8" fill="#2e8af7" stroke="#0a0a30" stroke-width="0.2" stroke-linejoin="round"/>
<polygon points="453.5,271.5 456.0,267.0 461.0,266.0 466.0,268.5 470.5,271.0 468.0,273.0 463.0,273.5 461.0,275.5 456.0,274.2" fill="#20a5e3" stroke="#0a0a30" stroke-width="0.2" stroke-linejoin="round"/>
<polygon points="456.0,272.0 462.0,270.5 469.0,270.5 466.0,272.5 462.0,274.5 459.0,275.5 456.0,274.2" fill="#06bac3" stroke="#0a0a30" stroke-width="0.2" stroke-linejoin="round"/>
<polygon points="441.5,277.8 444.0,275.3 449.0,274.3 456.0,274.0 459.0,276.0 459.5,278.5 457.0,281.5 452.0,282.6 446.0,282.2 443.0,280.6" fill="#20a5e3" stroke="#0a0a30" stroke-width="0.3" stroke-linejoin="round"/>
<polygon points="443.8,277.9 445.8,275.6 450.1,274.6 456.0,274.3 458.7,276.2 459.1,278.5 456.9,281.3 452.6,282.3 447.6,282.0 445.0,280.5" fill="#06bac3" stroke="#0a0a30" stroke-width="0.3" stroke-linejoin="round"/>
<polygon points="446.0,278.1 447.7,275.9 451.1,274.9 456.1,274.6 458.4,276.4 458.7,278.4 456.8,281.1 453.2,282.0 449.1,281.7 447.0,280.3" fill="#37c897" stroke="#0a0a30" stroke-width="0.3" stroke-linejoin="round"/>
<polygon points="448.3,278.2 449.5,276.2 452.2,275.2 456.1,275.0 458.0,276.5 458.4,278.4 456.8,280.8 453.8,281.6 450.7,281.5 449.0,280.2" fill="#81cc59" stroke="#0a0a30" stroke-width="0.3" stroke-linejoin="round"/>
<polygon points="450.5,278.4 451.4,276.5 453.2,275.5 456.2,275.3 457.7,276.7 458.0,278.3 456.7,280.6 454.4,281.3 452.2,281.2 451.0,280.0" fill="#d1bf27" stroke="#0a0a30" stroke-width="0.3" stroke-linejoin="round"/>
<polygon points="452.8,278.5 453.2,276.8 454.3,275.8 456.2,275.6 457.4,276.9 457.6,278.3 456.6,280.4 455.0,281.0 453.8,281.0 453.0,279.9" fill="#fec338" stroke="#0a0a30" stroke-width="0.3" stroke-linejoin="round"/>
<polygon points="462.0,294.4 473.0,293.0 485.0,294.0 473.0,295.4" fill="#484dee" stroke="#15153a" stroke-width="0.35" stroke-linejoin="round"/>
<polygon points="472.0,303.4 477.0,302.0 485.0,305.0 489.0,308.0 482.0,308.6 475.0,306.0" fill="#484dee" stroke="#15153a" stroke-width="0.35" stroke-linejoin="round"/>
<ellipse cx="496.0" cy="298.4" rx="1.5" ry="0.4" fill="#1c1c50" stroke="none" stroke-width="0"/>
<circle cx="455.4" cy="244.4" r="0.5" fill="#1c1c50" stroke="none" stroke-width="0"/>
<polygon points="407.0,293.0 414.0,288.6 422.0,290.0 428.0,294.0 431.6,299.0 430.0,304.0 424.0,307.0 420.0,310.0 421.0,314.0 417.0,317.4 410.0,320.0 404.0,324.0 400.0,328.0 399.0,333.0 396.0,338.0 391.0,339.4 388.0,336.0 387.0,332.0 380.0,331.0 375.0,333.0 371.0,330.0 375.0,326.0 379.0,323.0 381.0,320.0 387.0,317.0 392.0,313.0 390.0,310.0 382.0,312.0 374.0,313.0 371.0,311.4 377.0,308.0 386.0,304.0 395.0,301.0 392.0,299.0 386.0,297.0 381.0,295.0 380.0,292.6 386.0,291.0 394.0,292.0 401.0,295.0" fill="#484dee" stroke="#15153a" stroke-width="0.35" stroke-linejoin="round"/>
<circle cx="394.4" cy="316.0" r="1.3" fill="#484dee" stroke="#15153a" stroke-width="0.3"/>
<polygon points="401.0,298.0 406.0,293.5 414.0,289.8 422.0,290.8 428.0,294.5 431.3,299.0 430.0,303.5 425.0,306.5 421.0,310.0 420.5,314.0 417.0,317.0 410.0,319.5 405.0,323.0 402.0,326.0 401.6,324.0 405.0,320.0 407.0,316.0 403.0,313.0 399.0,310.0 395.0,306.0 394.0,302.0 399.0,300.0" fill="#3c6cf8" stroke="#0a0a30" stroke-width="0.2" stroke-linejoin="round"/>
<polygon points="403.0,299.0 407.0,295.0 414.0,291.5 421.0,292.5 427.5,295.5 431.0,299.0 430.0,302.5 427.0,304.5 423.0,306.5 419.0,310.0 416.0,314.0 413.0,316.0 409.0,314.0 405.0,312.0 401.0,309.0 399.0,306.0 402.0,303.5" fill="#2e8af7" stroke="#0a0a30" stroke-width="0.2" stroke-linejoin="round"/>
<polygon points="401.0,307.0 405.0,304.5 408.0,303.5 411.5,302.0 415.0,304.0 421.0,305.0 416.0,308.5 413.0,311.5 411.0,310.0 407.0,309.0 403.0,308.2" fill="#20a5e3" stroke="#0a0a30" stroke-width="0.2" stroke-linejoin="round"/>
<polygon points="404.0,306.0 408.0,303.5 413.0,303.0 418.0,304.5 416.0,306.0 412.0,307.5 408.0,307.0" fill="#06bac3" stroke="#0a0a30" stroke-width="0.2" stroke-linejoin="round"/>
<polygon points="431.0,299.5 430.0,301.5 427.0,303.5 421.0,304.5 415.0,304.0 411.5,302.0 411.0,297.5 414.0,293.8 421.0,294.0 428.0,296.0" fill="#20a5e3" stroke="#0a0a30" stroke-width="0.3" stroke-linejoin="round"/>
<polygon points="428.2,299.5 427.3,301.4 424.8,303.2 419.7,304.1 414.6,303.7 411.6,301.8 411.2,297.6 413.9,294.3 419.8,294.5 425.7,296.3" fill="#06bac3" stroke="#0a0a30" stroke-width="0.3" stroke-linejoin="round"/>
<polygon points="425.3,299.5 424.6,301.4 422.5,303.0 418.4,303.7 414.3,303.4 411.8,301.7 411.5,297.8 413.9,294.9 418.7,295.0 423.4,296.7" fill="#37c897" stroke="#0a0a30" stroke-width="0.3" stroke-linejoin="round"/>
<polygon points="422.5,299.5 421.9,301.3 420.3,302.7 417.2,303.4 413.9,303.2 411.9,301.5 411.7,297.9 413.8,295.4 417.5,295.6 421.0,297.0" fill="#81cc59" stroke="#0a0a30" stroke-width="0.3" stroke-linejoin="round"/>
<polygon points="419.6,299.5 419.2,301.3 418.0,302.5 415.9,303.0 413.6,302.9 412.1,301.4 412.0,298.1 413.8,296.0 416.4,296.1 418.7,297.4" fill="#d1bf27" stroke="#0a0a30" stroke-width="0.3" stroke-linejoin="round"/>
<polygon points="416.8,299.5 416.5,301.2 415.8,302.2 414.6,302.6 413.2,302.6 412.2,301.2 412.2,298.2 413.7,296.5 415.2,296.6 416.4,297.7" fill="#fec338" stroke="#0a0a30" stroke-width="0.3" stroke-linejoin="round"/>
<polygon points="380.0,269.4 385.0,267.4 393.0,270.6 397.0,274.0 392.0,275.4 385.0,273.0" fill="#484dee" stroke="#15153a" stroke-width="0.35" stroke-linejoin="round"/>
<polygon points="383.6,284.0 396.0,282.0 408.0,283.4 396.0,285.4" fill="#484dee" stroke="#15153a" stroke-width="0.35" stroke-linejoin="round"/>
<ellipse cx="373.0" cy="279.0" rx="2.5" ry="0.6" fill="#1c1c50" stroke="none" stroke-width="0"/>
<circle cx="465.4" cy="324.6" r="2.0" fill="#484dee" stroke="#15153a" stroke-width="0.35"/>
<ellipse cx="475.0" cy="315.6" rx="1.8" ry="1.2" fill="#484dee" stroke="#15153a" stroke-width="0.35"/>
<circle cx="404.6" cy="252.0" r="2.0" fill="#484dee" stroke="#15153a" stroke-width="0.35"/>
<ellipse cx="394.4" cy="260.6" rx="2.2" ry="1.7" fill="#484dee" stroke="#15153a" stroke-width="0.35"/>
<circle cx="413.6" cy="334.0" r="0.4" fill="#1c1c50" stroke="none" stroke-width="0"/>
<ellipse cx="406.0" cy="306.0" rx="1.0" ry="0.4" fill="#103050" stroke="none" stroke-width="0"/>
<defs><linearGradient id="cbD" x1="0" y1="0" x2="0" y2="1"><stop offset="0.0000" stop-color="#f9fb15"/><stop offset="0.0625" stop-color="#f5e327"/><stop offset="0.1250" stop-color="#feca33"/><stop offset="0.1875" stop-color="#f1ba37"/><stop offset="0.2500" stop-color="#c8c129"/><stop offset="0.3125" stop-color="#94ca4a"/><stop offset="0.3750" stop-color="#5ccc76"/><stop offset="0.4375" stop-color="#34c79c"/><stop offset="0.5000" stop-color="#12beb9"/><stop offset="0.5625" stop-color="#0cb3d3"/><stop offset="0.6250" stop-color="#21a3e3"/><stop offset="0.6875" stop-color="#2c90f0"/><stop offset="0.7500" stop-color="#347afd"/><stop offset="0.8125" stop-color="#4562fc"/><stop offset="0.8750" stop-color="#484cef"/><stop offset="0.9375" stop-color="#4536d5"/><stop offset="1.0000" stop-color="#3e26a8"/></linearGradient></defs>
<rect x="528.2" y="214.9" width="9.3" height="149.8" fill="url(#cbD)" stroke="#4a4a4a" stroke-width="0.3"/>
<text x="540.30" y="217.15" font-size="5.1" text-anchor="start" font-family="'Liberation Sans', Arial, sans-serif" fill="#262626" xml:space="preserve">100</text>
<text x="540.30" y="232.12" font-size="5.1" text-anchor="start" font-family="'Liberation Sans', Arial, sans-serif" fill="#262626" xml:space="preserve">90</text>
<text x="540.30" y="247.09" font-size="5.1" text-anchor="start" font-family="'Liberation Sans', Arial, sans-serif" fill="#262626" xml:space="preserve">80</text>
<text x="540.30" y="262.06" font-size="5.1" text-anchor="start" font-family="'Liberation Sans', Arial, sans-serif" fill="#262626" xml:space="preserve">70</text>
<text x="540.30" y="277.03" font-size="5.1" text-anchor="start" font-family="'Liberation Sans', Arial, sans-serif" fill="#262626" xml:space="preserve">60</text>
<text x="540.30" y="292.00" font-size="5.1" text-anchor="start" font-family="'Liberation Sans', Arial, sans-serif" fill="#262626" xml:space="preserve">50</text>
<text x="540.30" y="306.97" font-size="5.1" text-anchor="start" font-family="'Liberation Sans', Arial, sans-serif" fill="#262626" xml:space="preserve">40</text>
<text x="540.30" y="321.94" font-size="5.1" text-anchor="start" font-family="'Liberation Sans', Arial, sans-serif" fill="#262626" xml:space="preserve">30</text>
<text x="540.30" y="336.91" font-size="5.1" text-anchor="start" font-family="'Liberation Sans', Arial, sans-serif" fill="#262626" xml:space="preserve">20</text>
<text x="540.30" y="351.88" font-size="5.1" text-anchor="start" font-family="'Liberation Sans', Arial, sans-serif" fill="#262626" xml:space="preserve">10</text>
<text x="448.30" y="399.00" font-size="12.5" text-anchor="middle" font-family="'Liberation Serif', 'Times New Roman', serif" fill="#000" xml:space="preserve" font-weight="bold">(d)</text>
</svg></body></html>
